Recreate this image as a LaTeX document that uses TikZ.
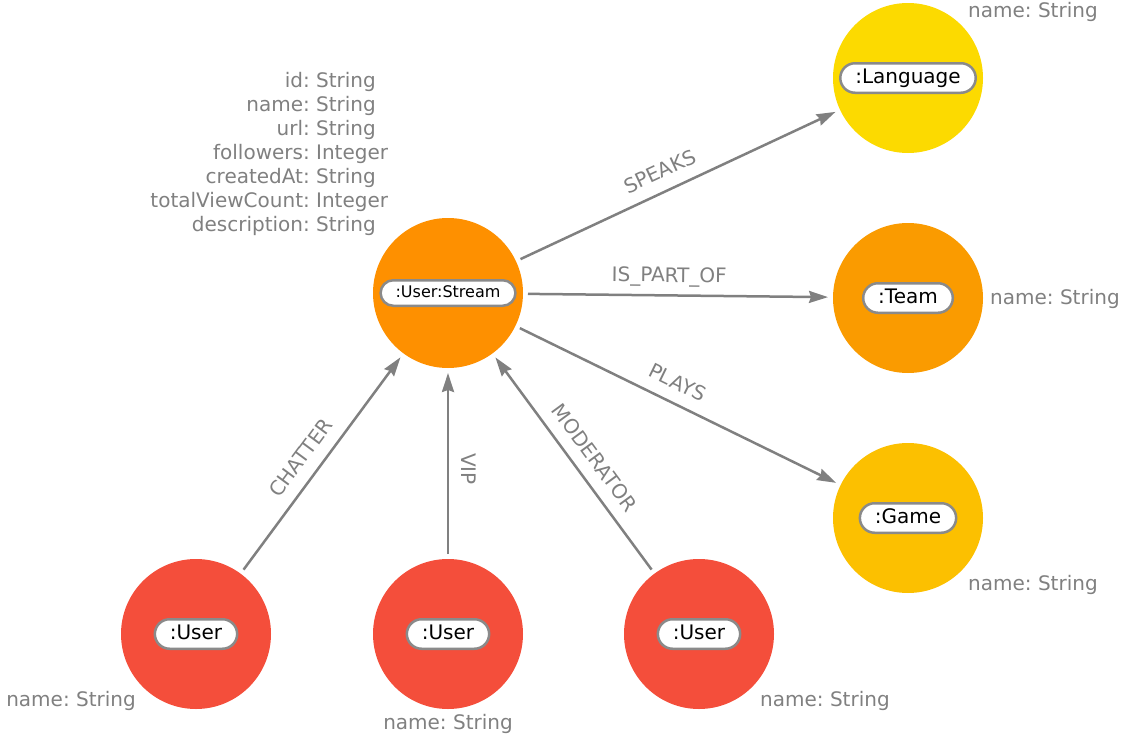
\documentclass[tikz,border=0pt]{standalone}
\usepackage{fontspec}
\setmainfont{DejaVu Sans}
\usetikzlibrary{arrows.meta}
\definecolor{txtgray}{HTML}{808080}
\definecolor{pillgray}{HTML}{8A8A8A}
\definecolor{cstream}{HTML}{FE9000}
\definecolor{clang}{HTML}{FCDA00}
\definecolor{cteam}{HTML}{FA9B00}
\definecolor{cgame}{HTML}{FCC000}
\definecolor{cuser}{HTML}{F44E3B}
\frenchspacing

\begin{document}
\begin{tikzpicture}[x=1pt, y=-1pt, font=\fontsize{20}{24}\selectfont,
  entity/.style={circle, minimum size=150pt, inner sep=0pt, outer sep=5pt},
  pill/.style={draw=pillgray, line width=2.5pt, fill=white, minimum height=29.5pt, rounded corners=14.75pt,
    inner xsep=15pt, inner ysep=0pt, text height=15pt, text depth=4pt},
  rel/.style={draw=txtgray, line width=2.5pt, -{Stealth[length=19pt,width=12pt,inset=2pt]}},
  lbl/.style={text=txtgray, anchor=south, inner xsep=0pt, inner ysep=12pt, text depth=0pt, pos=0.47},
  prop/.style={text=txtgray, inner sep=0pt}]
  \useasboundingbox (0,0) rectangle (1128,736);

  % Noeuds
  \node[entity, fill=cstream] (stream) at (448,293) {};
  \node[entity, fill=clang] (lang) at (908,78) {};
  \node[entity, fill=cteam] (team) at (908,298) {};
  \node[entity, fill=cgame] (game) at (908,518) {};
  \node[entity, fill=cuser] (u1) at (196,634) {};
  \node[entity, fill=cuser] (u2) at (448,634) {};
  \node[entity, fill=cuser] (u3) at (699,634) {};

  % Etiquettes
  \node[pill, font=\fontsize{16}{19}\selectfont, minimum height=25.5pt, rounded corners=12.75pt,
    text height=12pt, text depth=3pt] (pstream) at (stream) {:User:Stream};
  \node[pill] (plang) at (lang) {:Language};
  \node[pill] (pteam) at (team) {:Team};
  \node[pill] (pgame) at (game) {:Game};
  \foreach \n in {u1,u2,u3}
    \node[pill] (p\n) at (\n) {:User};

  % Relations
  \draw[rel] (stream) -- node[lbl, sloped] (lspeaks) {SPEAKS} (lang);
  \draw[rel] (stream) -- node[lbl, sloped] (lpart) {IS\_PART\_OF} (team);
  \draw[rel] (stream) -- node[lbl, sloped] (lplays) {PLAYS} (game);
  \draw[rel] (u1) -- node[lbl, sloped] (lchatter) {CHATTER} (stream);
  \draw[rel] (u2) -- node[lbl, rotate=-90] (lvip) {VIP} (stream);
  \draw[rel] (u3) -- node[lbl, sloped] (lmod) {MODERATOR} (stream);

  % Proprietes
  \foreach \k/\v [count=\i] in {id/String, name/String, url/String, followers/Integer,
      createdAt/String, totalViewCount/Integer, description/String}
    \node[prop, anchor=base east] (sp\i) at (310,63+24*\i) {\k:\rlap{\ \v}};
  \node[prop, anchor=base west] (nlang) at (968,17) {name: String};
  \node[prop, anchor=base west] (nteam) at (990,304) {name: String};
  \node[prop, anchor=base west] (ngame) at (968,590) {name: String};
  \node[prop, anchor=base east] (nu1) at (136,706) {name: String};
  \node[prop, anchor=base] (nu2) at (448,729) {name: String};
  \node[prop, anchor=base west] (nu3) at (760,706) {name: String};
\end{tikzpicture}
\end{document}
